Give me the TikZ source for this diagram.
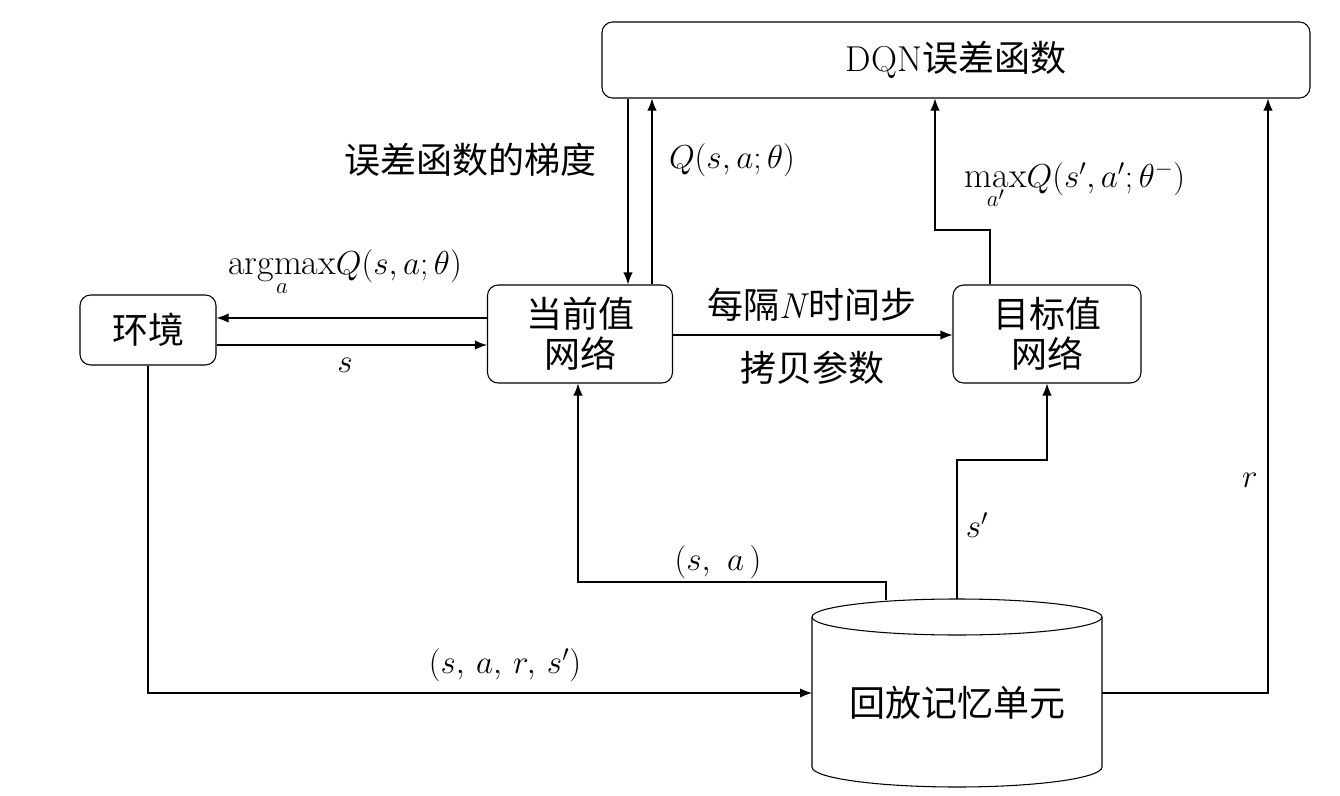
\documentclass[tikz,border=0pt]{standalone}
\usepackage{fontspec}
\newfontfamily\cjk{Noto Sans CJK SC}[Scale=1]
\usetikzlibrary{arrows.meta}
\begin{document}
\begin{tikzpicture}[x=0.75pt,y=-0.75pt,
  box/.style={draw,rounded corners=8pt,line width=0.8pt,inner sep=0pt,font=\cjk\fontsize{27}{31}\selectfont,align=center},
  arr/.style={draw,line width=0.8pt,-{Latex[length=9pt,width=7pt]}},
  lbl/.style={font=\fontsize{27}{31}\selectfont,inner sep=1pt},
  clbl/.style={font=\cjk\fontsize{27}{31}\selectfont,inner sep=1pt}]
\useasboundingbox (0,0) rectangle (1340,796);
\node[box,minimum width=708*0.75pt,minimum height=76*0.75pt] (dqn) at (956,60) {\fontspec{Latin Modern Roman}DQN\cjk 误差函数};
\node[box,minimum width=136*0.75pt,minimum height=70*0.75pt] (env) at (148,330) {环境};
\node[box,minimum width=185*0.75pt,minimum height=98*0.75pt] (cur) at (580,334) {当前值\\[-1pt]网络};
\node[box,minimum width=188*0.75pt,minimum height=98*0.75pt] (tgt) at (1047,334) {目标值\\[-1pt]网络};
% cylinder
\draw[line width=0.8pt] (812,617) -- (812,767) arc[start angle=180,end angle=0,x radius=145,y radius=20] -- (1102,617);
\draw[line width=0.8pt] (957,617) ellipse[x radius=145,y radius=18];
\node[clbl] (mem) at (957,703) {回放记忆单元};
\coordinate (memL) at (812,693);
\coordinate (memR) at (1102,693);
\coordinate (memT1) at (886,600);
\coordinate (memT2) at (957,599);
% arrows
\draw[arr] (dqn.south -| 628,0) -- (cur.north -| 628,0);
\draw[arr] (cur.north -| 652,0) -- (dqn.south -| 652,0);
\node[clbl] (l1) at (470,160) {误差函数的梯度};
\node[lbl] (l2) at (732,160) {$Q(s,a;\theta)$};
\draw[arr] (tgt.north -| 990,0) -- (990,230) -- (935,230) -- (dqn.south -| 935,0);
\node[lbl] (l3) at (1075,185) {$\max\limits_{a'}\!Q(s',a';\theta^{-})$};
\draw[arr] (cur.west |- 0,318) -- (env.east |- 0,318);
\node[lbl] (l4) at (345,272) {$\mathop{\mathrm{argmax}}\limits_{a}\!Q(s,a;\theta)$};
\draw[arr] (env.east |- 0,345) -- (cur.west |- 0,345);
\node[lbl] (l5) at (345,365) {$s$};
\draw[arr] (cur.east |- 0,335) -- (tgt.west |- 0,335);
\node[lbl] (l6) at (812,305) {\cjk 每隔\fontspec{Latin Modern Roman}\textit{N}\cjk 时间步};
\node[clbl] (l7) at (812,368) {拷贝参数};
\draw[arr] (env.south) -- (148,693) -- (memL);
\node[lbl] (l8) at (505,665) {$(s,\,a,\,r,\,s')$};
\draw[arr] (memT1) -- (886,582) -- (578,582) -- (cur.south -| 578,0);
\node[lbl] (l9) at (718,562) {$(s,\ a\,)$};
\draw[arr] (memT2) -- (957,460) -- (1047,460) -- (tgt.south);
\node[lbl] (l10) at (977,525) {$s'$};
\draw[arr] (memR) -- (1268,693) -- (dqn.south -| 1268,0);
\node[lbl] (l11) at (1250,480) {$r$};
\end{tikzpicture}
\end{document}
